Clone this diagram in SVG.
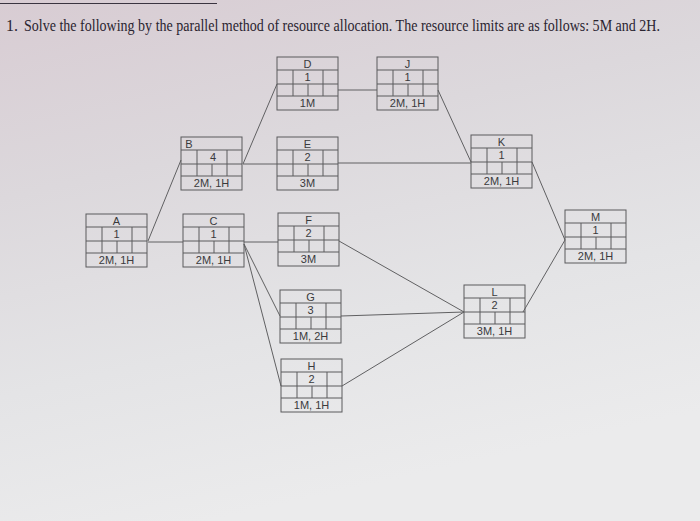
<svg xmlns="http://www.w3.org/2000/svg" xmlns:xlink="http://www.w3.org/1999/xlink" width="700" height="521" viewBox="0 0 700 521">
<defs>
<linearGradient id="bg" x1="0" y1="0" x2="0.3" y2="1">
<stop offset="0" stop-color="#d8ccd3"/>
<stop offset="0.35" stop-color="#dcd8dc"/>
<stop offset="0.7" stop-color="#e4e4e6"/>
<stop offset="1" stop-color="#ebebec"/>
</linearGradient>
<g id="grid">
<rect x="0" y="0" width="61" height="53" fill="none"/>
<path d="M0 13H61M0 27H61M0 39H61M16 13V39M46 13V39M31 27V39" fill="none"/>
</g>
<style>
.box { stroke: #5a5a5c; stroke-width: 1; fill: none; }
.lbl { font-family: "Liberation Sans", Arial, sans-serif; font-size: 11px; fill: #3a3a3c; text-anchor: middle; }
.con line { stroke: #606062; stroke-width: 1; }
.title { font-family: "Liberation Serif", "Times New Roman", serif; font-size: 16px; fill: #2a2430; }
</style>
</defs>
<rect width="700" height="521" fill="url(#bg)"/>
<line x1="0" y1="3.5" x2="217" y2="3.5" stroke="#3a3440" stroke-width="1.2"/>
<text class="title" x="6" y="31">1.</text>
<text class="title" transform="translate(24,31) scale(0.8,1)" x="0" y="0" textLength="795" lengthAdjust="spacingAndGlyphs">Solve the following by the parallel method of resource allocation. The resource limits are as follows: 5M and 2H.</text>

<g id="connectors" class="con">
<line x1="148" y1="241" x2="181" y2="160"/>
<line x1="148" y1="242" x2="183" y2="242"/>
<line x1="243" y1="164" x2="277" y2="84"/>
<line x1="243" y1="164" x2="277" y2="164"/>
<line x1="244" y1="242" x2="278" y2="242"/>
<line x1="244" y1="244" x2="280" y2="316"/>
<line x1="244" y1="244" x2="281" y2="386"/>
<line x1="338" y1="90" x2="377" y2="90"/>
<line x1="438" y1="90" x2="471" y2="162"/>
<line x1="338" y1="163" x2="471" y2="163"/>
<line x1="532" y1="162" x2="565" y2="240"/>
<line x1="339" y1="241" x2="464" y2="312"/>
<line x1="341" y1="316" x2="464" y2="312"/>
<line x1="342" y1="386" x2="464" y2="312"/>
<line x1="523" y1="312" x2="565" y2="240"/>
</g>

<g id="node-A" transform="translate(86,214)"><use xlink:href="#grid" class="box"/><text class="lbl" x="30.5" y="11">A</text><text class="lbl" x="30.5" y="24">1</text><text class="lbl" x="30.5" y="50">2M, 1H</text></g>
<g id="node-B" transform="translate(181,137)"><use xlink:href="#grid" class="box"/><text class="lbl" x="8" y="11">B</text><text class="lbl" x="32" y="24">4</text><text class="lbl" x="30.5" y="50">2M, 1H</text></g>
<g id="node-C" transform="translate(183,214)"><use xlink:href="#grid" class="box"/><text class="lbl" x="30.5" y="11">C</text><text class="lbl" x="30.5" y="24">1</text><text class="lbl" x="30.5" y="50">2M, 1H</text></g>
<g id="node-D" transform="translate(277,57)"><use xlink:href="#grid" class="box"/><text class="lbl" x="30.5" y="11">D</text><text class="lbl" x="30.5" y="24">1</text><text class="lbl" x="30.5" y="50">1M</text></g>
<g id="node-J" transform="translate(377,57)"><use xlink:href="#grid" class="box"/><text class="lbl" x="30.5" y="11">J</text><text class="lbl" x="30.5" y="24">1</text><text class="lbl" x="30.5" y="50">2M, 1H</text></g>
<g id="node-E" transform="translate(277,137)"><use xlink:href="#grid" class="box"/><text class="lbl" x="30.5" y="11">E</text><text class="lbl" x="30.5" y="24">2</text><text class="lbl" x="30.5" y="50">3M</text></g>
<g id="node-F" transform="translate(278,213)"><use xlink:href="#grid" class="box"/><text class="lbl" x="30.5" y="11">F</text><text class="lbl" x="30.5" y="24">2</text><text class="lbl" x="30.5" y="50">3M</text></g>
<g id="node-G" transform="translate(280,290)"><use xlink:href="#grid" class="box"/><text class="lbl" x="30.5" y="11">G</text><text class="lbl" x="30.5" y="24">3</text><text class="lbl" x="30.5" y="50">1M, 2H</text></g>
<g id="node-H" transform="translate(281,359)"><use xlink:href="#grid" class="box"/><text class="lbl" x="30.5" y="11">H</text><text class="lbl" x="30.5" y="24">2</text><text class="lbl" x="30.5" y="50">1M, 1H</text></g>
<g id="node-K" transform="translate(471,135)"><use xlink:href="#grid" class="box"/><text class="lbl" x="30.5" y="11">K</text><text class="lbl" x="30.5" y="24">1</text><text class="lbl" x="30.5" y="50">2M, 1H</text></g>
<g id="node-L" transform="translate(464,285)"><use xlink:href="#grid" class="box"/><text class="lbl" x="30.5" y="11">L</text><text class="lbl" x="30.5" y="24">2</text><text class="lbl" x="30.5" y="50">3M, 1H</text></g>
<g id="node-M" transform="translate(565,210)"><use xlink:href="#grid" class="box"/><text class="lbl" x="30.5" y="11">M</text><text class="lbl" x="30.5" y="24">1</text><text class="lbl" x="30.5" y="50">2M, 1H</text></g>
</svg>
